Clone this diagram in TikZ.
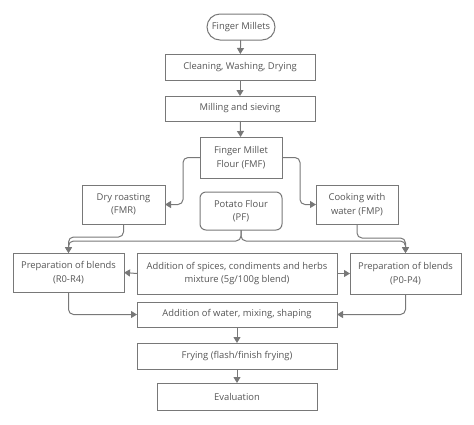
\documentclass[tikz,border=0pt]{standalone}
\usepackage{fontspec}
\setmainfont{Open Sans}
\usetikzlibrary{arrows.meta}
\definecolor{linegray}{HTML}{787878}
\definecolor{textgray}{HTML}{555555}
\begin{document}
\begin{tikzpicture}[x=1pt, y=-1pt,
        box/.style={draw=linegray, line width=1pt, text=textgray, align=center,
          font=\fontsize{9.4}{13.5}\selectfont, inner sep=0pt, outer sep=0pt},
        link/.style={draw=linegray, line width=1pt, rounded corners=5pt,
          -{Triangle[width=7pt,length=6pt]}}]
      \useasboundingbox (0,0) rectangle (474,424);
      \node[box, rounded corners=13pt, minimum width=68pt, minimum height=26pt] (FM) at (241,27) {Finger Millets};
      \node[box, minimum width=150pt, minimum height=26pt] (CL) at (240,67) {Cleaning, Washing, Drying};
      \node[box, minimum width=150pt, minimum height=25pt] (ML) at (240,108.5) {Milling and sieving};
      \node[box, minimum width=82pt, minimum height=41pt] (FMF) at (241,157.5) {Finger Millet\\Flour (FMF)};
      \node[box, rounded corners=6pt, minimum width=82pt, minimum height=38pt] (PF) at (241,211) {Potato Flour\\(PF)};
      \node[box, minimum width=83pt, minimum height=39pt] (FMR) at (123.5,204.5) {Dry roasting\\(FMR)};
      \node[box, minimum width=82pt, minimum height=39pt] (FMP) at (357,204.5) {Cooking with\\water (FMP)};
      \node[box, minimum width=111pt, minimum height=39pt] (R) at (68.5,272.5) {Preparation of blends\\(R0-R4)};
      \node[box, minimum width=200pt, minimum height=41pt] (SP) at (237,273.5) {Addition of spices, condiments and herbs\\mixture (5g/100g blend)};
      \node[box, minimum width=111pt, minimum height=41pt] (P) at (405.5,273.5) {Preparation of blends\\(P0-P4)};
      \node[box, minimum width=200pt, minimum height=25pt] (WM) at (237,314.5) {Addition of water, mixing, shaping};
      \node[box, minimum width=200pt, minimum height=26pt] (FR) at (237,356) {Frying (flash/finish frying)};
      \node[box, minimum width=160pt, minimum height=27pt] (EV) at (237,396.5) {Evaluation};
      \draw[link] (FM) -- (CL);
      \draw[link] (CL) -- (ML);
      \draw[link] (ML) -- (FMF);
      \draw[link] (FMF.west) -- ++(-17,0) |- (FMR.east);
      \draw[link] (FMF.east) -- ++(18,0) |- (FMP.west);
      \draw[link] (FMR.south) -- ++(0,13) -| (R.north);
      \draw[link] (PF.south) -- ++(0,11) -| (R.north);
      \draw[link] (PF.south) -- ++(0,11) -| (P.north);
      \draw[link] (FMP.south) -- ++(0,14) -| (P.north);
      \draw[link] (SP.west) -- (R.east);
      \draw[link] (SP.east) -- (P.west);
      \draw[link] (R.south) |- (WM.west);
      \draw[link] (P.south) |- (WM.east);
      \draw[link] (WM) -- (FR);
      \draw[link] (FR) -- (EV);
\end{tikzpicture}
\end{document}
